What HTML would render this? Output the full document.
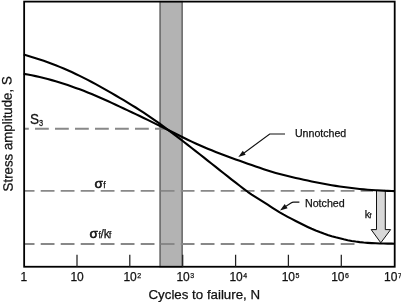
<!DOCTYPE html>
<html><head><meta charset="utf-8"><title>S-N curve</title>
<style>
html,body{margin:0;padding:0;background:#fff;}
svg{display:block;font-family:"Liberation Sans",Arial,sans-serif;fill:#111;}
</style></head><body>
<svg width="401" height="302" viewBox="0 0 401 302">
<rect width="401" height="302" fill="#fff"/>
<!-- grey band -->
<rect x="160.05" y="1.6" width="22.1" height="265.1" fill="#b3b3b3" stroke="#5c5c5c" stroke-width="1.4"/>
<!-- dashed reference lines -->
<path d="M24.1 128.8H28.8M35.0 128.8H48.8M55.0 128.8H68.8M75.0 128.8H88.8M95.0 128.8H108.8M115.0 128.8H128.8M135.0 128.8H148.8M155.0 128.8H166.0" stroke="#888" stroke-width="1.9" fill="none"/>
<path d="M24.1 190.9H34.5M40.7 190.9H54.5M60.7 190.9H74.5M80.7 190.9H94.5M100.7 190.9H114.5M120.7 190.9H134.5M140.7 190.9H154.5M160.7 190.9H174.5M180.7 190.9H194.5M200.7 190.9H214.5M220.7 190.9H234.5M240.7 190.9H254.5M260.7 190.9H274.5M280.7 190.9H294.5M300.7 190.9H314.5M320.7 190.9H334.5M340.7 190.9H354.5M360.7 190.9H373.0" stroke="#888" stroke-width="1.9" fill="none"/>
<path d="M24.1 244H34.5M40.7 244H54.5M60.7 244H74.5M80.7 244H94.5M100.7 244H114.5M120.7 244H134.5M140.7 244H154.5M160.7 244H174.5M180.7 244H194.5M200.7 244H214.5M220.7 244H234.5M240.7 244H254.5M260.7 244H274.5M280.7 244H294.5M300.7 244H314.5M320.7 244H334.5M340.7 244H354.5" stroke="#888" stroke-width="1.9" fill="none"/>
<!-- arrow kf -->
<path d="M376.5 190.3V229.6H371.2L380.8 242.8L390.6 229.6H385.3V190.3Z" fill="#d8d8d8" stroke="#111" stroke-width="1" stroke-linejoin="miter"/>
<!-- curves -->
<path d="M23.7 54.60 L27.7 55.75 L31.7 56.94 L35.7 58.19 L39.7 59.49 L43.7 60.85 L47.7 62.26 L51.7 63.74 L55.7 65.27 L59.7 66.87 L63.7 68.54 L67.7 70.27 L71.7 72.07 L75.7 73.95 L79.7 75.88 L83.7 77.88 L87.7 79.93 L91.7 82.03 L95.7 84.18 L99.7 86.37 L103.7 88.60 L107.7 90.86 L111.7 93.15 L115.7 95.48 L119.7 97.82 L123.7 100.19 L127.7 102.59 L131.7 105.03 L135.7 107.51 L139.7 110.04 L143.7 112.64 L147.7 115.31 L151.7 118.05 L155.7 120.85 L159.7 123.71 L163.7 126.61 L167.7 129.56 L171.7 132.55 L175.7 135.58 L179.7 138.64 L183.7 141.72 L187.7 144.83 L191.7 147.96 L195.7 151.11 L199.7 154.26 L203.7 157.43 L207.7 160.60 L211.7 163.77 L215.7 166.94 L219.7 170.11 L223.7 173.27 L227.7 176.43 L231.7 179.56 L235.7 182.68 L239.7 185.77 L243.7 188.82 L247.7 191.77 L251.7 194.56 L255.7 197.17 L259.7 199.69 L263.7 202.18 L267.7 204.73 L271.7 207.31 L275.7 209.86 L279.7 212.32 L283.7 214.63 L287.7 216.81 L291.7 218.90 L295.7 220.96 L299.7 223.00 L303.7 225.00 L307.7 226.93 L311.7 228.76 L315.7 230.48 L319.7 232.07 L323.7 233.55 L327.7 234.90 L331.7 236.14 L335.7 237.28 L339.7 238.32 L343.7 239.29 L347.7 240.16 L351.7 240.92 L355.7 241.56 L359.7 242.09 L363.7 242.51 L367.7 242.84 L371.7 243.10 L375.7 243.29 L379.7 243.43 L383.7 243.53 L387.7 243.61 L391.7 243.66 L394.7 243.70" stroke="#000" stroke-width="2.1" fill="none" stroke-linejoin="round"/>
<path d="M23.7 73.90 L27.7 74.54 L31.7 75.28 L35.7 76.10 L39.7 77.00 L43.7 77.97 L47.7 79.01 L51.7 80.12 L55.7 81.29 L59.7 82.52 L63.7 83.79 L67.7 85.12 L71.7 86.49 L75.7 87.89 L79.7 89.35 L83.7 90.85 L87.7 92.41 L91.7 94.02 L95.7 95.70 L99.7 97.44 L103.7 99.22 L107.7 101.05 L111.7 102.91 L115.7 104.78 L119.7 106.66 L123.7 108.53 L127.7 110.40 L131.7 112.28 L135.7 114.16 L139.7 116.06 L143.7 117.97 L147.7 119.91 L151.7 121.86 L155.7 123.83 L159.7 125.81 L163.7 127.80 L167.7 129.80 L171.7 131.81 L175.7 133.81 L179.7 135.80 L183.7 137.76 L187.7 139.70 L191.7 141.61 L195.7 143.46 L199.7 145.27 L203.7 147.01 L207.7 148.70 L211.7 150.34 L215.7 151.93 L219.7 153.49 L223.7 155.01 L227.7 156.51 L231.7 157.98 L235.7 159.43 L239.7 160.86 L243.7 162.28 L247.7 163.69 L251.7 165.09 L255.7 166.48 L259.7 167.85 L263.7 169.19 L267.7 170.48 L271.7 171.72 L275.7 172.90 L279.7 174.01 L283.7 175.06 L287.7 176.06 L291.7 177.01 L295.7 177.93 L299.7 178.83 L303.7 179.72 L307.7 180.59 L311.7 181.43 L315.7 182.25 L319.7 183.04 L323.7 183.80 L327.7 184.51 L331.7 185.19 L335.7 185.84 L339.7 186.45 L343.7 187.02 L347.7 187.56 L351.7 188.06 L355.7 188.53 L359.7 188.96 L363.7 189.36 L367.7 189.71 L371.7 190.03 L375.7 190.31 L379.7 190.55 L383.7 190.75 L387.7 190.92 L391.7 191.04 L394.7 191.10" stroke="#000" stroke-width="2.1" fill="none" stroke-linejoin="round"/>
<!-- frame -->
<rect x="24.15" y="1.6" width="370.55" height="265.15" fill="none" stroke="#000" stroke-width="1.8"/>
<path d="M77.0 254.7V266.7M129.8 254.7V266.7M182.7 254.7V266.7M235.6 254.7V266.7M288.4 254.7V266.7M341.3 254.7V266.7" stroke="#222" stroke-width="1.25" fill="none"/>
<!-- leaders -->
<path d="M285 134H269.7L243 153.7" stroke="#111" stroke-width="1.15" fill="none"/>
<path d="M238.3 157.1L245.7 154.7L242.8 150.7Z" fill="#111"/>
<path d="M299.4 202.1H293.6Q292.2 202.1 291 202.9L286 206.2" stroke="#111" stroke-width="1.15" fill="none"/>
<path d="M280 210.5L287.6 208.2L284.7 204.1Z" fill="#111"/>
<!-- text -->
<g stroke="#111" stroke-width="0.25">
<text x="294.9" y="137.1" font-size="11" textLength="51.4" lengthAdjust="spacingAndGlyphs">Unnotched</text>
<text x="304.9" y="207" font-size="11.2" textLength="39.9" lengthAdjust="spacingAndGlyphs">Notched</text>
<text transform="translate(30.1,124) scale(1,1.05)" font-size="13.6">S</text><text transform="translate(39,126) scale(0.9,1.08)" font-size="8.2">3</text>
<text y="187.6"><tspan x="94.5" font-size="13.5" stroke-width="0.6">σ</tspan><tspan x="103.3" font-size="8.6">f</tspan></text>
<text y="237.9"><tspan x="89.5" font-size="13.5" stroke-width="0.6">σ</tspan><tspan x="98.4" font-size="8.2">f</tspan><tspan x="100.4" font-size="12">/</tspan><tspan x="103.7" font-size="12">k</tspan><tspan x="109" font-size="8.2">f</tspan></text>
<text y="217.5"><tspan x="364.8" font-size="10.6">k</tspan><tspan x="369.5" font-size="6.6">f</tspan></text>
<text x="148.5" y="298.8" font-size="13.3">Cycles to failure, N</text>
<text transform="translate(12.7,191.4) rotate(-90.6) scale(0.977,1)" font-size="13.6">Stress amplitude, S</text>
</g>
<g font-size="12" stroke="#111" stroke-width="0.25">
<text x="20.5" y="281.2">1</text>
<text x="70.4" y="281.2">10</text>
<text x="123.4" y="281.2">10<tspan font-size="7" dx="0.5" dy="-2.8">2</tspan></text>
<text x="176.4" y="281.2">10<tspan font-size="7" dx="0.5" dy="-2.8">3</tspan></text>
<text x="229.4" y="281.2">10<tspan font-size="7" dx="0.5" dy="-2.8">4</tspan></text>
<text x="281.7" y="281.2">10<tspan font-size="7" dx="0.5" dy="-2.8">5</tspan></text>
<text x="331.2" y="281.2">10<tspan font-size="7" dx="0.5" dy="-2.8">6</tspan></text>
<text x="384.1" y="281.2">10<tspan font-size="7" dx="0.5" dy="-2.8">7</tspan></text>
</g>
</svg>
</body></html>
